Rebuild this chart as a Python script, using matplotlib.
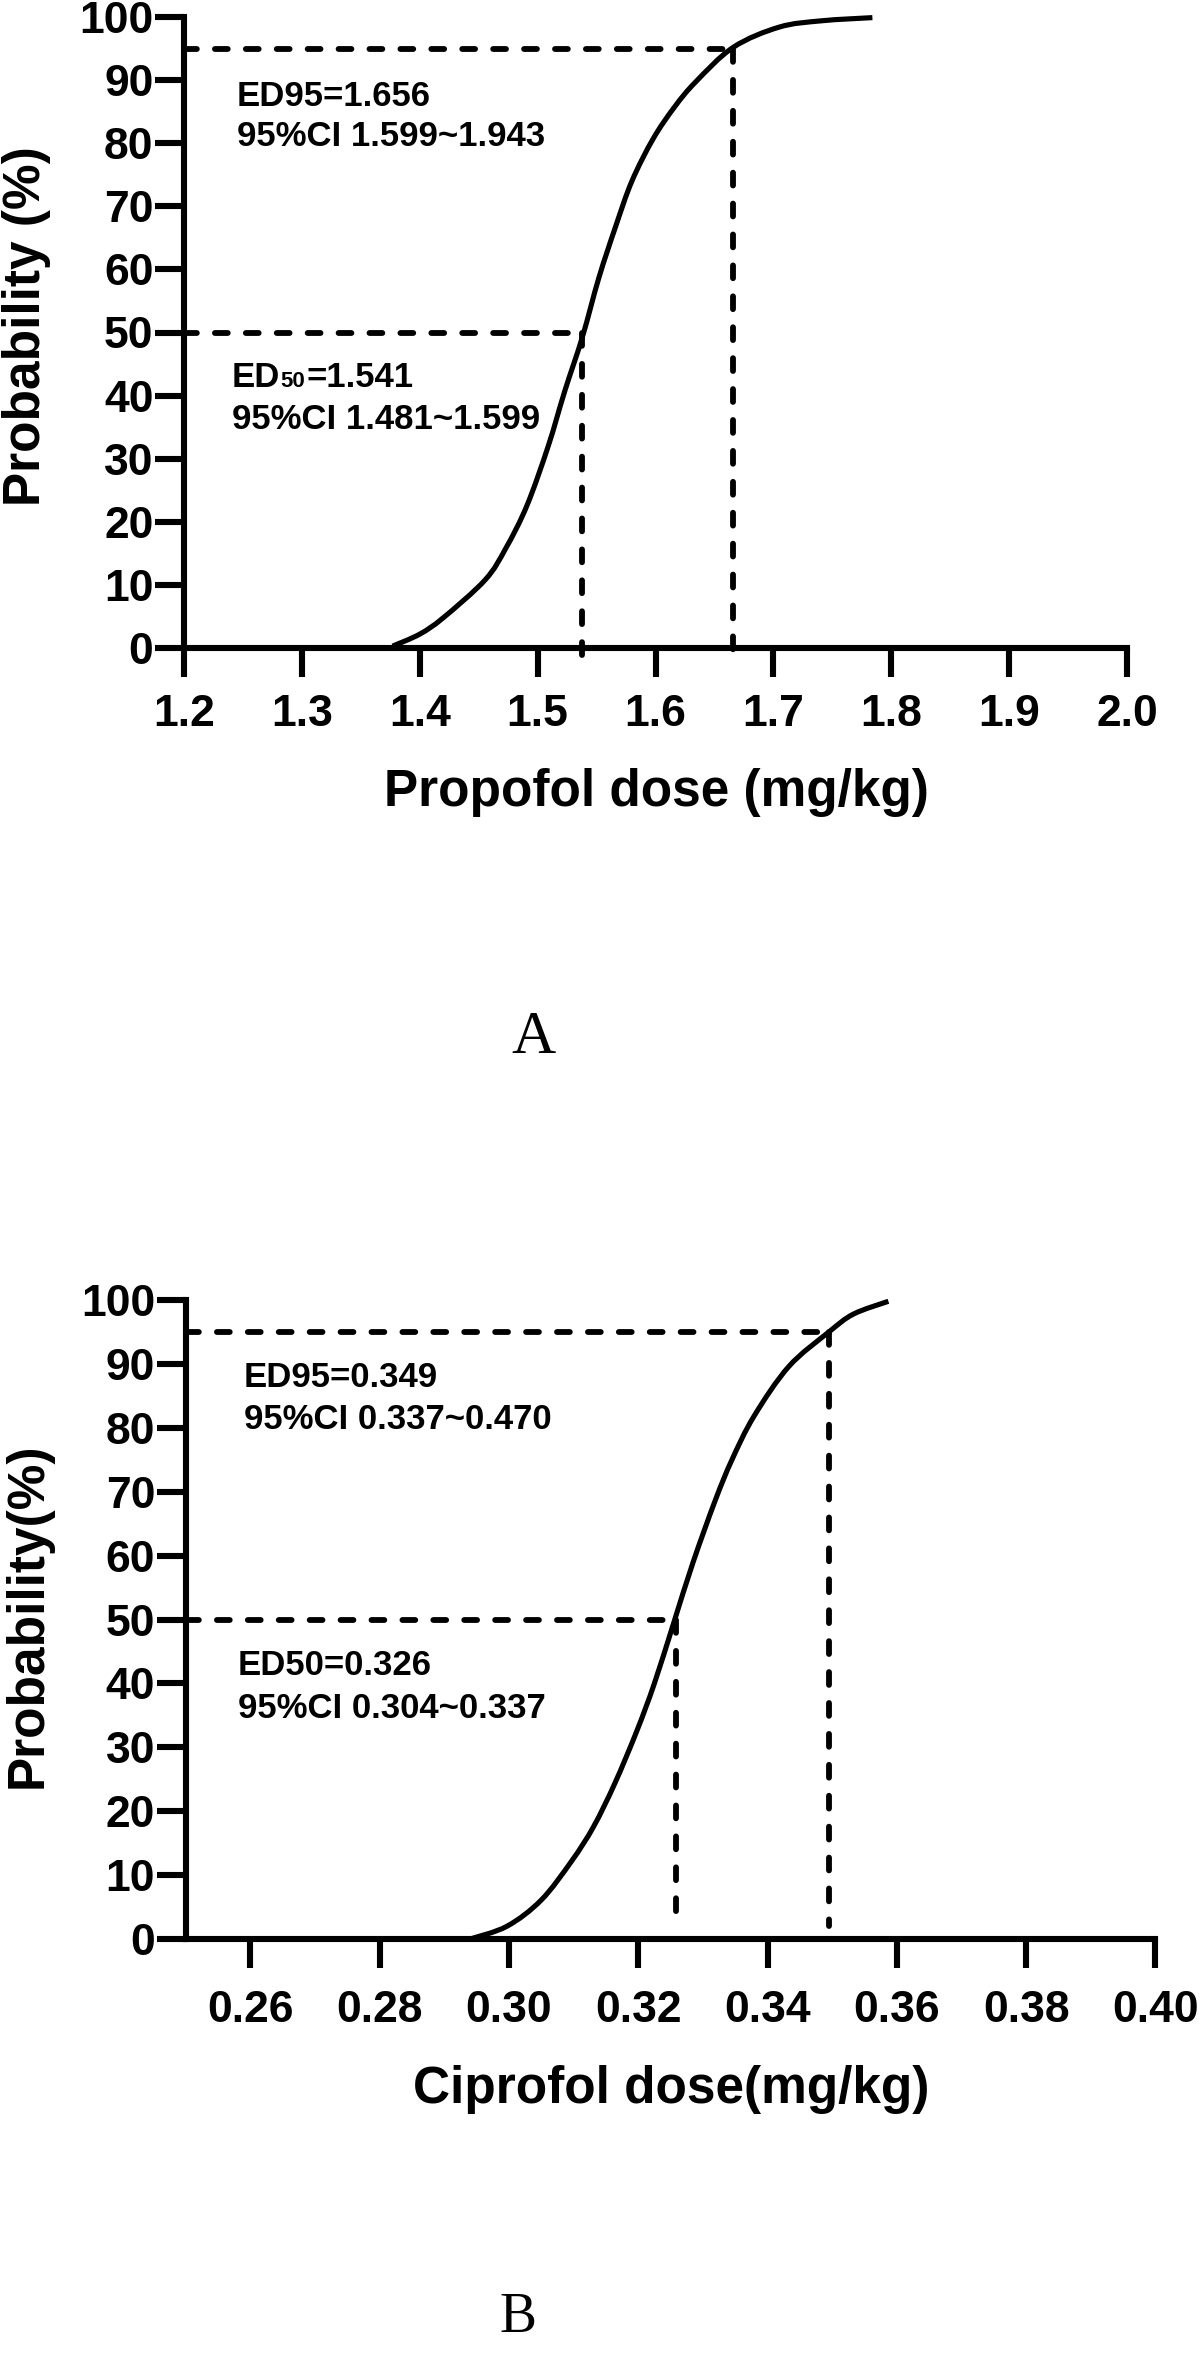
import matplotlib
matplotlib.use("Agg")
import matplotlib.pyplot as plt
from matplotlib.path import Path
from matplotlib.patches import PathPatch

# ---------------- data ----------------
# Panel A: propofol
dose_A = [1.377, 1.400, 1.420, 1.4555, 1.473, 1.491, 1.509, 1.523, 1.538, 1.552,
          1.566, 1.580, 1.598, 1.616, 1.634, 1.666, 1.705, 1.741, 1.784]
prob_A = [0.3, 2.2, 4.8, 10.8, 15.8, 22.6, 32.0, 40.7, 49.3, 58.7,
          66.7, 74.0, 80.7, 85.7, 89.7, 95.2, 98.4, 99.4, 99.9]
ed_x_A = [1.538, 1.666]
ed_y = [50, 95]
xticks_A = [1.2, 1.3, 1.4, 1.5, 1.6, 1.7, 1.8, 1.9, 2.0]
xticklabels_A = ["1.2", "1.3", "1.4", "1.5", "1.6", "1.7", "1.8", "1.9", "2.0"]

# Panel B: ciprofol
dose_B = [0.2940, 0.2997, 0.3050, 0.3097, 0.3131, 0.3164, 0.3198, 0.3225, 0.3255,
          0.3285, 0.3319, 0.3345, 0.3379, 0.3433, 0.3495, 0.3533, 0.3587]
prob_B = [0.0, 2.0, 6.1, 12.2, 17.6, 24.4, 32.6, 40.0, 49.5,
          59.0, 68.6, 75.0, 81.8, 89.6, 95.0, 97.8, 99.8]
ed_x_B = [0.3258, 0.3495]
xticks_B = [0.26, 0.28, 0.30, 0.32, 0.34, 0.36, 0.38, 0.40]
xticklabels_B = ["0.26", "0.28", "0.30", "0.32", "0.34", "0.36", "0.38", "0.40"]

yticks = [0, 10, 20, 30, 40, 50, 60, 70, 80, 90, 100]
yticklabels = ["0", "10", "20", "30", "40", "50", "60", "70", "80", "90", "100"]

# ---------------- style ----------------
SANS = "Liberation Sans"
SERIF = "Liberation Serif"
plt.rcParams["font.family"] = [SANS, "DejaVu Sans"]

W, H = 1200, 2357
fig = plt.figure(figsize=(W / 100, H / 100), dpi=100)

def px_axes(left, right, top, bottom):
    return [left / W, 1 - bottom / H, (right - left) / W, (bottom - top) / H]

AXLW = 4.4
CURVELW = 3.7
DASHLW = 4.2
DASHES = (2.2, 3.1)

def style_axes(ax, xticks, xlabels, xlim, xpad):
    for s in ("top", "right"):
        ax.spines[s].set_visible(False)
    for s in ("left", "bottom"):
        ax.spines[s].set_linewidth(AXLW)
        ax.spines[s].set_capstyle("projecting")
    ax.set_xlim(*xlim)
    ax.set_ylim(0, 100)
    ax.set_xticks(xticks)
    ax.set_xticklabels(xlabels)
    ax.set_yticks(yticks)
    ax.set_yticklabels(yticklabels)
    ax.tick_params(axis="both", direction="out", length=21, width=AXLW,
                   labelsize=32)
    ax.tick_params(axis="y", pad=1)
    ax.tick_params(axis="x", pad=xpad)
    for lab in ax.get_xticklabels() + ax.get_yticklabels():
        lab.set_fontweight("bold")
        lab.set_family(SANS)

def dashed(ax, xs, ys):
    ax.plot(xs, ys, color="black", lw=DASHLW, dashes=DASHES,
            dash_capstyle="round", clip_on=False, zorder=2)

def smooth_curve(ax, xs, ys):
    """Draw a smooth line through the read points (Catmull-Rom as Bezier)."""
    pts = list(zip(xs, ys))
    n = len(pts)
    verts = [pts[0]]
    codes = [Path.MOVETO]
    for i in range(n - 1):
        p0 = pts[i - 1] if i > 0 else pts[i]
        p1 = pts[i]
        p2 = pts[i + 1]
        p3 = pts[i + 2] if i + 2 < n else pts[i + 1]
        c1 = (p1[0] + (p2[0] - p0[0]) / 6, p1[1] + (p2[1] - p0[1]) / 6)
        c2 = (p2[0] - (p3[0] - p1[0]) / 6, p2[1] - (p3[1] - p1[1]) / 6)
        verts += [c1, c2, p2]
        codes += [Path.CURVE4] * 3
    patch = PathPatch(Path(verts, codes), facecolor="none", edgecolor="black",
                      lw=CURVELW, capstyle="butt", joinstyle="round",
                      transform=ax.transData, clip_on=False, zorder=3)
    ax.add_patch(patch)

# ---------------- panel A ----------------
axA = fig.add_axes(px_axes(184, 1127, 17, 648))
style_axes(axA, xticks_A, xticklabels_A, (1.2, 2.0), 12)
smooth_curve(axA, dose_A, prob_A)
for xv, yv in zip(ed_x_A, ed_y):
    dashed(axA, [1.2, xv], [yv, yv])
    dashed(axA, [xv, xv], [yv, -1.7])

TXT = 25
axA.text(1.245, 85.9, "ED95=1.656", fontsize=TXT, fontweight="bold", va="baseline")
axA.text(1.245, 79.6, "95%CI 1.599~1.943", fontsize=TXT, fontweight="bold", va="baseline")
t1 = axA.text(1.2403, 41.4, "ED", fontsize=TXT, fontweight="bold", va="baseline")
t2 = axA.annotate("50", xy=(1, 41.4), xycoords=(t1, "data"), fontsize=16,
                  fontweight="bold", va="baseline", ha="left")
axA.annotate("=1.541", xy=(1.06, 41.4), xycoords=(t2, "data"), fontsize=TXT,
             fontweight="bold", va="baseline", ha="left")
axA.text(1.2403, 34.7, "95%CI 1.481~1.599", fontsize=TXT, fontweight="bold", va="baseline")

fig.text(656 / W, 1 - 793 / H, "Propofol dose (mg/kg)", fontsize=37,
         fontweight="bold", ha="center", va="center")
fig.text(27 / W, 1 - 326 / H, "Probability (%)", fontsize=37,
         fontweight="bold", ha="center", va="center", rotation=90)
fig.text(534 / W, 1 - 1038 / H, "A", fontsize=44, family=SERIF,
         ha="center", va="center")

# ---------------- panel B ----------------
axB = fig.add_axes(px_axes(185.7, 1155.4, 1300, 1939))
style_axes(axB, xticks_B, xticklabels_B, (0.25, 0.40), 16)
smooth_curve(axB, dose_B, prob_B)
for xv, yv in zip(ed_x_B, ed_y):
    dashed(axB, [0.25, xv], [yv, yv])
    dashed(axB, [xv, xv], [yv, 2.0])

axB.text(0.2590, 86.4, "ED95=0.349", fontsize=TXT, fontweight="bold", va="baseline")
axB.text(0.2590, 79.8, "95%CI 0.337~0.470", fontsize=TXT, fontweight="bold", va="baseline")
axB.text(0.2581, 41.3, "ED50=0.326", fontsize=TXT, fontweight="bold", va="baseline")
axB.text(0.2581, 34.6, "95%CI 0.304~0.337", fontsize=TXT, fontweight="bold", va="baseline")

fig.text(671 / W, 1 - 2090 / H, "Ciprofol dose(mg/kg)", fontsize=37,
         fontweight="bold", ha="center", va="center")
fig.text(28 / W, 1 - 1615 / H, "Probability(%)", fontsize=37,
         fontweight="bold", ha="center", va="center", rotation=90)
fig.text(518 / W, 1 - 2318 / H, "B", fontsize=40, family=SERIF,
         ha="center", va="center")

fig.savefig("out.png", dpi=100, facecolor="white")
